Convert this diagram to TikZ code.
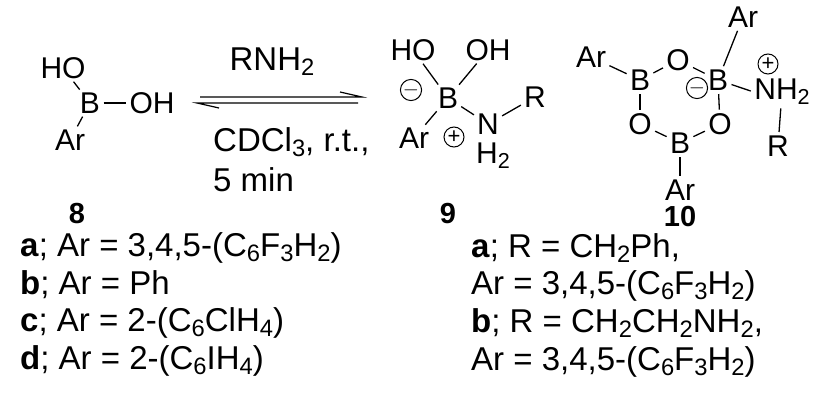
\documentclass[tikz,border=0pt]{standalone}
\usepackage{fontspec}
\setmainfont{Liberation Sans}
\newcommand{\sbs}[1]{\raisebox{-0.3ex}{\fontsize{0.72em}{1em}\selectfont #1}}
\begin{document}
\begin{tikzpicture}[x=1pt,y=-1pt,font=\fontsize{33}{40}\selectfont,
  a/.style={inner sep=0.5pt,font=\fontsize{30}{36}\selectfont},
  bd/.style={line width=1.3pt,shorten <=3pt,shorten >=3pt},
  chg/.style={circle,draw,line width=1pt,inner sep=0pt,minimum size=20pt,font=\fontsize{22}{22}\selectfont},
  lab/.style={font=\fontsize{29}{34}\selectfont},
  txt/.style={anchor=west,inner sep=0pt}]
\useasboundingbox (0,0) rectangle (813,417);
% 8
\node[a] (h8) at (63,68) {HO};
\node[a] (b8) at (90,103) {B};
\node[a] (o8) at (152,103) {OH};
\node[a] (r8) at (70,140) {Ar};
\draw[bd] (h8) -- (b8); \draw[bd] (b8) -- (o8); \draw[bd] (r8) -- (b8);
\node[lab] (l8) at (77,214) {\textbf{8}};
% arrows
\coordinate (p1) at (200,97); \coordinate (p2) at (362,97);
\coordinate (q1) at (197,103); \coordinate (q2) at (358,103);
\draw[line width=1.2pt] (p1) -- (p2) -- ++(-22,-5);
\draw[line width=1.2pt] (q2) -- (q1) -- ++(22,5);
\node (rn) at (272,62) {RNH\sbs{2}};
\node[txt] (c1) at (213,142) {CDCl\sbs{3}, r.t.,};
\node[txt] (c2) at (213,180) {5 min};
% 9
\node[a] (h9) at (413,50) {HO};
\node[a] (o9) at (488,50) {OH};
\node[a] (b9) at (448,98) {B};
\node[chg] (m9) at (411,90) {$-$};
\node[a] (n9) at (488,124) {N};
\node[a] (h29) at (493,156) {H\sbs{2}};
\node[a] (R9) at (535,97) {R};
\node[a] (a9) at (414,138) {Ar};
\node[chg] (p9) at (454,137) {+};
\draw[bd] (h9) -- (b9); \draw[bd] (o9) -- (b9); \draw[bd] (b9) -- (n9);
\draw[bd] (n9) -- (R9); \draw[bd] (a9) -- (b9);
\node[lab] (l9) at (448,214) {\textbf{9}};
% 10
\node[a] (a10) at (591,57) {Ar};
\node[a] (b1) at (640,80) {B};
\node[a] (o1) at (678,60) {O};
\node[a] (b2) at (718,80) {B};
\node[chg] (m10) at (697,88) {$-$};
\node[a] (at) at (743,17) {Ar};
\node[a] (nh) at (782,92) {NH\sbs{2}};
\node[chg] (p10) at (768,64) {+};
\node[a] (R10) at (778,146) {R};
\node[a] (o2) at (640,124) {O};
\node[a] (b3) at (680,143) {B};
\node[a] (o3) at (720,124) {O};
\node[a] (ab) at (680,190) {Ar};
\draw[bd] (a10) -- (b1); \draw[bd] (b1) -- (o1); \draw[bd] (o1) -- (b2);
\draw[bd] (b2) -- (at); \draw[bd] (b2) -- (nh.west); \draw[bd] (nh) -- (R10);
\draw[bd] (b1) -- (o2); \draw[bd] (o2) -- (b3); \draw[bd] (b3) -- (o3);
\draw[bd] (o3) -- (b2); \draw[bd] (b3) -- (ab);
\node[lab] (l10) at (680,217) {\textbf{10}};
% legend
\node[txt] (la) at (20,248) {\textbf{a}; Ar = 3,4,5-(C\sbs{6}F\sbs{3}H\sbs{2})};
\node[txt] (lb) at (20,285) {\textbf{b}; Ar = Ph};
\node[txt] (lc) at (20,323) {\textbf{c}; Ar = 2-(C\sbs{6}ClH\sbs{4})};
\node[txt] (ld) at (20,361) {\textbf{d}; Ar = 2-(C\sbs{6}IH\sbs{4})};
\node[txt] (ra) at (471,248) {\textbf{a}; R = CH\sbs{2}Ph,};
\node[txt] (ra2) at (471,286) {Ar = 3,4,5-(C\sbs{6}F\sbs{3}H\sbs{2})};
\node[txt] (rb) at (471,323) {\textbf{b}; R = CH\sbs{2}CH\sbs{2}NH\sbs{2},};
\node[txt] (rb2) at (471,362) {Ar = 3,4,5-(C\sbs{6}F\sbs{3}H\sbs{2})};
\end{tikzpicture}
\end{document}
